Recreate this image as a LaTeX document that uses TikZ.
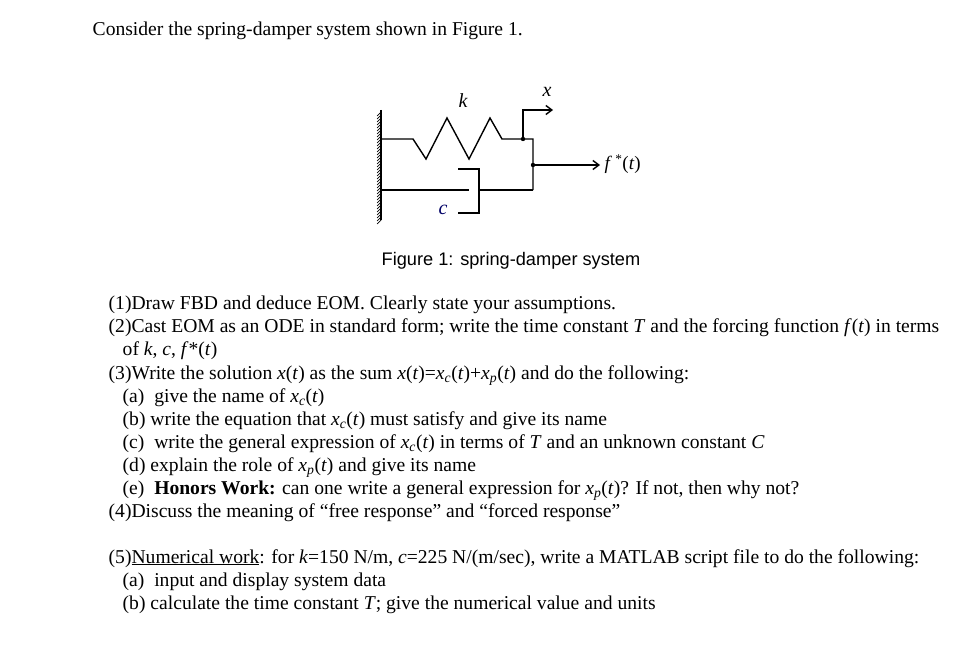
\documentclass[tikz,border=0pt]{standalone}
\usepackage{fontspec}
\setmainfont{Liberation Serif}
\newfontfamily\arialf{Liberation Sans}
\usetikzlibrary{arrows.meta,patterns}
\newcommand\vi[1]{\textit{#1}}
\newcommand\sbx[1]{\textit{x}\textsubscript{\textit{#1}}(\textit{t})}
\begin{document}
\begin{tikzpicture}[x=1pt,y=1pt,line width=1.4pt,
  txt/.style={anchor=base west,inner sep=0,font=\fontsize{19.6}{22}\selectfont},
  arr/.style={-{Straight Barb[length=6pt,width=9pt]}}]
\useasboundingbox[fill=white] (0,0) rectangle (968,-647);
% wall
\draw (381,-110) -- (381,-220);
\foreach \y in {-112,-115,...,-220} \draw[line width=0.7pt] (381,\y) -- (377,\y-4);
% spring
\coordinate (w1) at (381,-139);
\coordinate (dot) at (523,-139);
\coordinate (bt) at (533,-139);
\coordinate (bm) at (533,-165);
\coordinate (bb) at (533,-190);
\draw (w1) -- (413,-139) -- (426,-159) -- (447,-118) -- (469,-159) -- (490,-118) -- (502,-139) -- (dot) -- (bt) -- (bm) -- (bb);
\fill (dot) circle (2.2);
\fill (bm) circle (2.2);
\coordinate (xa) at (523,-110);
\coordinate (xb) at (553,-110);
\draw[arr] (dot) -- (xa) -- (xb);
\node[font=\fontsize{20}{22}\selectfont\itshape] (xl) at (547,-92) {x};
\node[font=\fontsize{20}{22}\selectfont\itshape] (kl) at (463,-101) {k};
\coordinate (fe) at (600,-165);
\draw[arr] (bm) -- (fe);
\node[anchor=west,inner sep=1,font=\fontsize{19}{22}\selectfont] (fl) at (603,-164) {\vi{f}\,\textsuperscript{*}(\vi{t})};
% damper
\coordinate (w2) at (381,-190);
\draw (w2) -- (469,-190);
\draw (458,-169) -- (479,-169) -- (479,-213) -- (458,-213);
\draw (479,-190) -- (bb);
\node[font=\fontsize{20}{22}\selectfont\itshape,text=blue!40!black] (cl) at (443,-210) {c};
% texts
\node[txt] (t0) at (92,-36) {Consider the spring-damper system shown in Figure 1.};
\node[font=\arialf\fontsize{18.2}{20}\selectfont] (cap) at (511,-261) {Figure 1: spring-damper system};
\node[txt] (t1) at (108,-309) {(1)Draw FBD and deduce EOM. Clearly state your assumptions.};
\node[txt] (t2) at (108,-332) {(2)Cast EOM as an ODE in standard form; write the time constant \vi{T} and the forcing function \vi{f}(\vi{t}) in terms};
\node[txt] (t3) at (122,-355) {of \vi{k}, \vi{c}, \vi{f}*(\vi{t})};
\node[txt] (t4) at (108,-379) {(3)Write the solution \vi{x}(\vi{t}) as the sum \vi{x}(\vi{t})=\sbx{c}+\sbx{p} and do the following:};
\node[txt] (t5) at (122,-402) {(a)\ \ give the name of \sbx{c}};
\node[txt] (t6) at (122,-425) {(b)\ write the equation that \sbx{c} must satisfy and give its name};
\node[txt] (t7) at (122,-448) {(c)\ \ write the general expression of \sbx{c} in terms of \vi{T} and an unknown constant \vi{C}};
\node[txt] (t8) at (122,-471) {(d)\ explain the role of \sbx{p} and give its name};
\node[txt] (t9) at (122,-494) {(e)\ \ \textbf{Honors Work:} can one write a general expression for \sbx{p}? If not, then why not?};
\node[txt] (t10) at (108,-517) {(4)Discuss the meaning of “free response” and “forced response”};
\node[txt] (t11) at (108,-563) {(5)\underline{Numerical work}: for \vi{k}=150 N/m, \vi{c}=225 N/(m/sec), write a MATLAB script file to do the following:};
\node[txt] (t12) at (122,-586) {(a)\ \ input and display system data};
\node[txt] (t13) at (122,-609) {(b)\ calculate the time constant \vi{T}; give the numerical value and units};
\end{tikzpicture}
\end{document}
